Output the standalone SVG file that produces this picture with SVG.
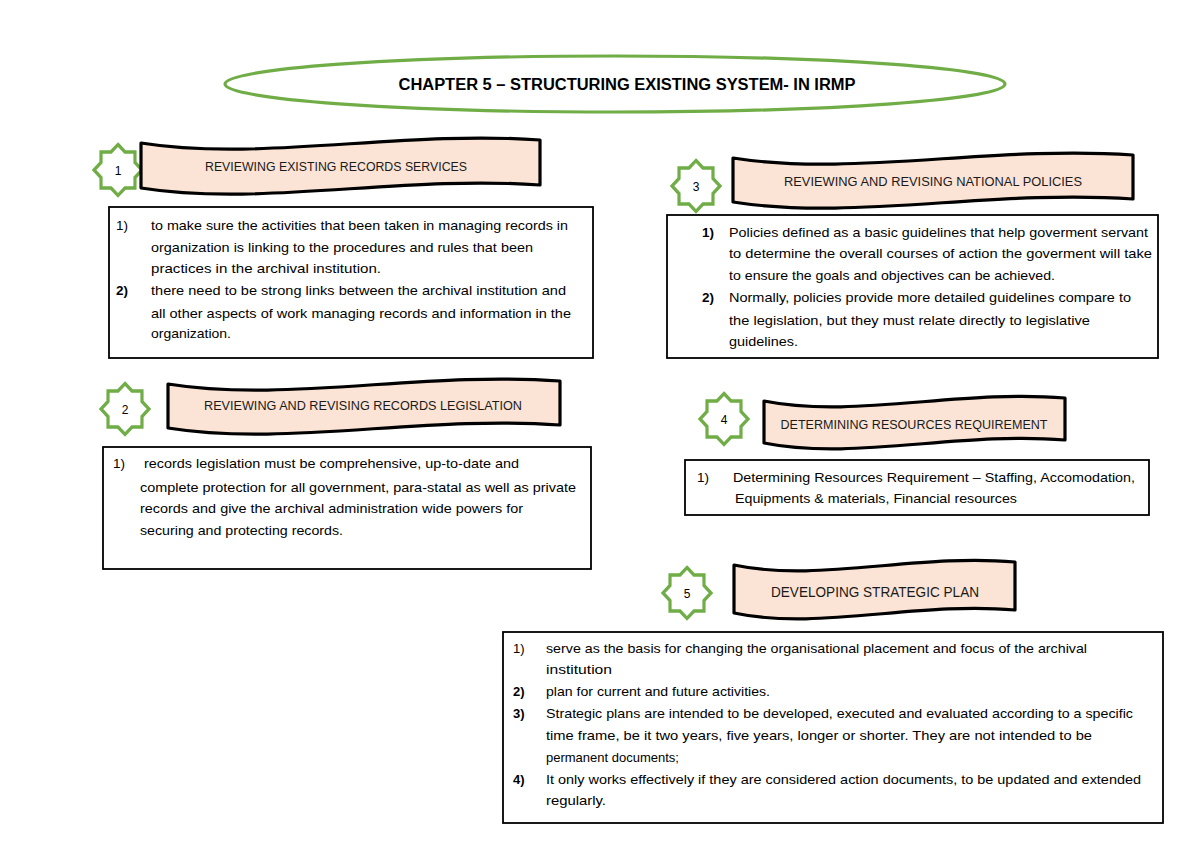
<svg xmlns="http://www.w3.org/2000/svg" width="1200" height="848" viewBox="0 0 1200 848">
<style>
.bg{fill:#ffffff}
.star{fill:#ffffff;stroke:#70AD47;stroke-width:3.2;stroke-linejoin:miter}
.ban{fill:#FBE4D5;stroke:#000000;stroke-width:3.2;stroke-linejoin:round}
.box{fill:#ffffff;stroke:#000000;stroke-width:1.8}
.num{font-family:"Liberation Sans",Arial,sans-serif;font-size:12px;fill:#000;text-anchor:middle}
.bt{font-family:"Liberation Sans",Arial,sans-serif;font-size:12.5px;fill:#1a1a1a;text-anchor:middle}
.tx{font-family:"Liberation Sans",Arial,sans-serif;font-size:13.5px;fill:#000}
.tx5{font-family:"Liberation Sans",Arial,sans-serif;font-size:13px;fill:#000}
.b{font-weight:bold}
</style>
<defs>
<path id="star8" d="M0,-24 L7.04,-17 L16.97,-16.97 L17,-7.04 L24,0 L17,7.04 L16.97,16.97 L7.04,17 L0,24 L-7.04,17 L-16.97,16.97 L-17,7.04 L-24,0 L-17,-7.04 L-16.97,-16.97 L-7.04,-17 Z"/>
</defs>
<rect class="bg" x="0" y="0" width="1200" height="848"/>

<g id="title">
<ellipse cx="615" cy="84" rx="390" ry="28" fill="#ffffff" stroke="#70AD47" stroke-width="3.2"/>
<text x="627" y="89.5" text-anchor="middle" font-family="Liberation Sans,Arial,sans-serif" font-size="16" font-weight="bold" textLength="457" lengthAdjust="spacingAndGlyphs">CHAPTER  5 – STRUCTURING EXISTING SYSTEM- IN IRMP</text>
</g>

<g id="node1">
<use href="#star8" class="star" transform="translate(118,170) scale(1,1.06)"/>
<text class="num" x="118" y="174.5">1</text>
<path class="ban" d="M141,143 C260.7,162 400.4,130 540,140 L540,185 C400.4,175 260.7,207 141,188 Z"/>
<text class="bt" x="336" y="170.5" textLength="262" lengthAdjust="spacingAndGlyphs">REVIEWING EXISTING RECORDS SERVICES</text>
<rect class="box" x="109" y="207" width="484" height="151"/>
<text class="tx" x="116" y="229.5">1)</text>
<text class="tx" x="151" y="229.5" textLength="417" lengthAdjust="spacingAndGlyphs">to make sure the activities that been taken in managing records in</text>
<text class="tx" x="151" y="251.5" textLength="382" lengthAdjust="spacingAndGlyphs">organization is linking to the procedures and rules that been</text>
<text class="tx" x="151" y="273" textLength="230" lengthAdjust="spacingAndGlyphs">practices in the archival institution.</text>
<text class="tx b" x="116" y="295">2)</text>
<text class="tx" x="151" y="295" textLength="415" lengthAdjust="spacingAndGlyphs">there need to be strong links between the archival institution and</text>
<text class="tx" x="151" y="317.5" textLength="420" lengthAdjust="spacingAndGlyphs">all other aspects of work managing records and information in the</text>
<text class="tx" x="151" y="338" textLength="80" lengthAdjust="spacingAndGlyphs">organization.</text>
</g>

<g id="node2">
<use href="#star8" class="star" transform="translate(125,409) scale(1,1.06)"/>
<text class="num" x="125" y="413.5">2</text>
<path class="ban" d="M168,384 C285.6,403 422.8,371 560,381 L560,425 C422.8,415 285.6,447 168,428 Z"/>
<text class="bt" x="363" y="409.5" textLength="318" lengthAdjust="spacingAndGlyphs">REVIEWING AND REVISING RECORDS LEGISLATION</text>
<rect class="box" x="103" y="447" width="488" height="122"/>
<text class="tx" x="113" y="467.5">1)</text>
<text class="tx" x="144" y="467.5" textLength="375" lengthAdjust="spacingAndGlyphs">records legislation must be comprehensive, up-to-date and</text>
<text class="tx" x="140" y="491.5" textLength="436" lengthAdjust="spacingAndGlyphs">complete protection for all government, para-statal as well as private</text>
<text class="tx" x="140" y="512.5" textLength="383" lengthAdjust="spacingAndGlyphs">records and give the archival administration wide powers for</text>
<text class="tx" x="140" y="534.5" textLength="203" lengthAdjust="spacingAndGlyphs">securing and protecting records.</text>
</g>

<g id="node3">
<use href="#star8" class="star" transform="translate(696,186) scale(1,1.06)"/>
<text class="num" x="696" y="190.5">3</text>
<path class="ban" d="M733,158 C853,177 993,145 1133,155 L1133,199 C993,189 853,221 733,202 Z"/>
<text class="bt" x="933" y="186" textLength="298" lengthAdjust="spacingAndGlyphs">REVIEWING AND REVISING NATIONAL POLICIES</text>
<rect class="box" x="667" y="215" width="491" height="143"/>
<text class="tx b" x="702" y="236.5">1)</text>
<text class="tx" x="729" y="236.5" textLength="419" lengthAdjust="spacingAndGlyphs">Policies defined as a basic guidelines that help goverment servant</text>
<text class="tx" x="729" y="257.5" textLength="423" lengthAdjust="spacingAndGlyphs">to determine the overall courses of action the goverment will take</text>
<text class="tx" x="729" y="280" textLength="326" lengthAdjust="spacingAndGlyphs">to ensure the goals and objectives can be achieved.</text>
<text class="tx b" x="702" y="301.5">2)</text>
<text class="tx" x="729" y="301.5" textLength="402" lengthAdjust="spacingAndGlyphs">Normally, policies provide more detailed guidelines compare to</text>
<text class="tx" x="729" y="324.5" textLength="361" lengthAdjust="spacingAndGlyphs">the legislation, but they must relate directly to legislative</text>
<text class="tx" x="729" y="346" textLength="69" lengthAdjust="spacingAndGlyphs">guidelines.</text>
</g>

<g id="node4">
<use href="#star8" class="star" transform="translate(724,419) scale(1,1.06)"/>
<text class="num" x="724" y="423.5">4</text>
<path class="ban" d="M764,401 C854.3,419 959.7,389 1065,398 L1065,440 C959.7,431 854.3,461 764,443 Z"/>
<text class="bt" x="914" y="428.5" textLength="267" lengthAdjust="spacingAndGlyphs">DETERMINING RESOURCES REQUIREMENT</text>
<rect class="box" x="685" y="460" width="464" height="55"/>
<text class="tx" x="697" y="481.5">1)</text>
<text class="tx" x="733" y="481.5" textLength="402" lengthAdjust="spacingAndGlyphs">Determining Resources Requirement – Staffing, Accomodation,</text>
<text class="tx" x="735" y="502.5" textLength="282" lengthAdjust="spacingAndGlyphs">Equipments &amp; materials, Financial resources</text>
</g>

<g id="node5">
<use href="#star8" class="star" transform="translate(687,593) scale(1,1.06)"/>
<text class="num" x="687" y="597.5">5</text>
<path class="ban" d="M734,565 C818.3,583 916.7,553 1015,562 L1015,610 C916.7,601 818.3,631 734,613 Z"/>
<text class="bt" x="875" y="597" textLength="208" lengthAdjust="spacingAndGlyphs" style="font-size:14.5px">DEVELOPING STRATEGIC PLAN</text>
<rect class="box" x="503" y="632" width="660" height="191"/>
<text class="tx5" x="513" y="652.5">1)</text>
<text class="tx5" x="546" y="652.5" textLength="541" lengthAdjust="spacingAndGlyphs">serve as the basis for changing the organisational placement and focus of the archival</text>
<text class="tx5" x="546" y="674" textLength="66" lengthAdjust="spacingAndGlyphs">institution</text>
<text class="tx5 b" x="513" y="695.5">2)</text>
<text class="tx5" x="546" y="695.5" textLength="224" lengthAdjust="spacingAndGlyphs">plan for current and future activities.</text>
<text class="tx5 b" x="513" y="718">3)</text>
<text class="tx5" x="546" y="718" textLength="587" lengthAdjust="spacingAndGlyphs">Strategic plans are intended to be developed, executed and evaluated according to a specific</text>
<text class="tx5" x="546" y="740" textLength="546" lengthAdjust="spacingAndGlyphs">time frame, be it two years, five years, longer or shorter. They are not intended to be</text>
<text class="tx5" x="546" y="761.5">permanent documents;</text>
<text class="tx5 b" x="513" y="783.5">4)</text>
<text class="tx5" x="546" y="783.5" textLength="595" lengthAdjust="spacingAndGlyphs">It only works effectively if they are considered action documents, to be updated and extended</text>
<text class="tx5" x="546" y="805" textLength="60" lengthAdjust="spacingAndGlyphs">regularly.</text>
</g>

<g id="connectors"/>
</svg>
